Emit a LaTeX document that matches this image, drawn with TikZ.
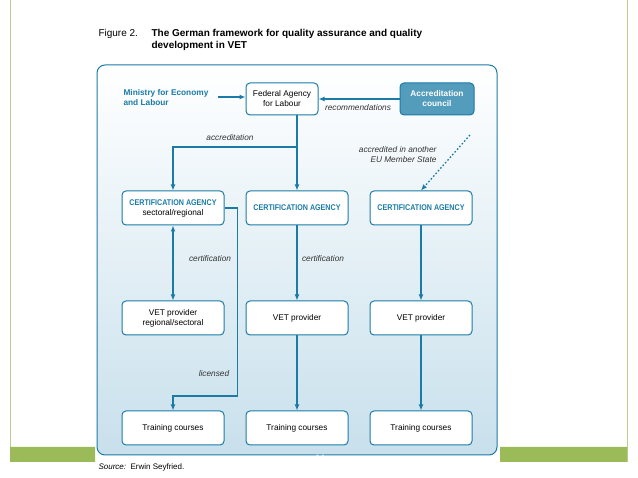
\documentclass[tikz,border=0pt]{standalone}
\usepackage{fontspec}
\setmainfont{Liberation Sans}
\usetikzlibrary{arrows.meta}
\definecolor{vetblue}{HTML}{1B7BA6}
\definecolor{vetfill}{HTML}{C8E0EC}
\definecolor{vetgreen}{HTML}{9BBB59}
\newcommand{\certname}{\textcolor{vetblue}{\bfseries\scalebox{0.86}[1]{CERTIFICATION AGENCY}}}
\tikzset{
    box/.style={draw=vetblue, line width=1pt, rounded corners=4pt, fill=white,
        minimum width=102pt, minimum height=34pt, align=center,
        font=\fontsize{8.3}{10}\selectfont},
    lab/.style={font=\fontsize{8.3}{10}\selectfont\itshape, text=black!80},
    flow/.style={draw=vetblue, line width=1.6pt, -{Latex[length=6pt,width=5pt]}},
}
\begin{document}
\begin{tikzpicture}[x=1pt, y=-1pt]
    \useasboundingbox (0,0) rectangle (638,478);
    % slide decoration
    \draw [vetgreen!70, line width=0.6pt] (10,0) -- (10,462) (627,0) -- (627,462);
    \fill [vetgreen] (10,447) rectangle (95,462) (500,447) rectangle (627,462);
    % frame
    \shade [top color=white, bottom color=vetfill, rounded corners=8pt]
        (97,65) rectangle (497,455);
    \draw [vetblue, line width=1pt, rounded corners=8pt] (97,65) rectangle (497,455);
    \node [white, font=\fontsize{8}{9}\selectfont] at (320,458) {14};
    % title
    \node [anchor=north west, font=\fontsize{10}{12}\selectfont] at (95,26) {Figure 2.};
    \node [anchor=north west, align=left, font=\fontsize{10}{12}\selectfont\bfseries]
        at (148,26) {The German framework for quality assurance and quality\\development in VET};
    \node [anchor=north west, font=\fontsize{8}{9}\selectfont] at (95,460)
        {\textit{Source:}\ \ Erwin Seyfried.};
    % top row
    \node [anchor=west, align=left, text=vetblue, font=\fontsize{8.3}{10}\selectfont\bfseries]
        (ministry) at (120,98) {Ministry for Economy\\and Labour};
    \node [box, minimum width=72pt, minimum height=32pt] (federal) at (282,99) {Federal Agency\\for Labour};
    \node [box, minimum width=74pt, minimum height=32pt, fill=vetblue!75, text=white,
        font=\fontsize{8.3}{10}\selectfont\bfseries] (council) at (437,99) {Accreditation\\council};
    \node [lab] (recom) at (358,108) {recommendations};
    % columns
    \node [box] (cert1) at (173,208) {\certname\\sectoral/regional};
    \node [box] (cert2) at (297,208) {\certname};
    \node [box] (cert3) at (421,208) {\certname};
    \foreach \c/\x in {1/173, 2/297, 3/421} {
        \node [box] (train\c) at (\x,428) {Training courses};
    }
    \node [box] (vet1) at (173,318) {VET provider\\regional/sectoral};
    \node [box] (vet2) at (297,318) {VET provider};
    \node [box] (vet3) at (421,318) {VET provider};
    % connectors
    \coordinate (fedout) at (297,115);
    \coordinate (branch) at (297,147);
    \coordinate (dotstart) at (470,135);
    \draw [flow] (ministry.east) ++(6,-1) -- (federal.west |- 97,97);
    \draw [flow] (council.west) -- (federal.east);
    \draw [flow] (fedout) -- (cert2.north);
    \draw [flow] (branch) -| (cert1.north);
    \draw [flow, dotted, line width=1.3pt] (dotstart) -- (cert3.north);
    \draw [flow, {Latex[length=6pt,width=5pt]}-{Latex[length=6pt,width=5pt]}] (cert1.south) -- (vet1.north);
    \draw [flow] (cert2.south) -- (vet2.north);
    \draw [flow] (cert3.south) -- (vet3.north);
    \draw [flow] (vet2.south) -- (train2.north);
    \draw [flow] (vet3.south) -- (train3.north);
    \draw [flow] (cert1.east) -- ++(13,0) |- (173,396) -- (train1.north);
    % labels
    \node [lab] at (230,138) {accreditation};
    \node [lab, align=right, anchor=east] at (440,155) {accredited in another\\EU Member State};
    \node [lab] at (210,259) {certification};
    \node [lab] at (323,259) {certification};
    \node [lab] at (214,374) {licensed};
\end{tikzpicture}
\end{document}
